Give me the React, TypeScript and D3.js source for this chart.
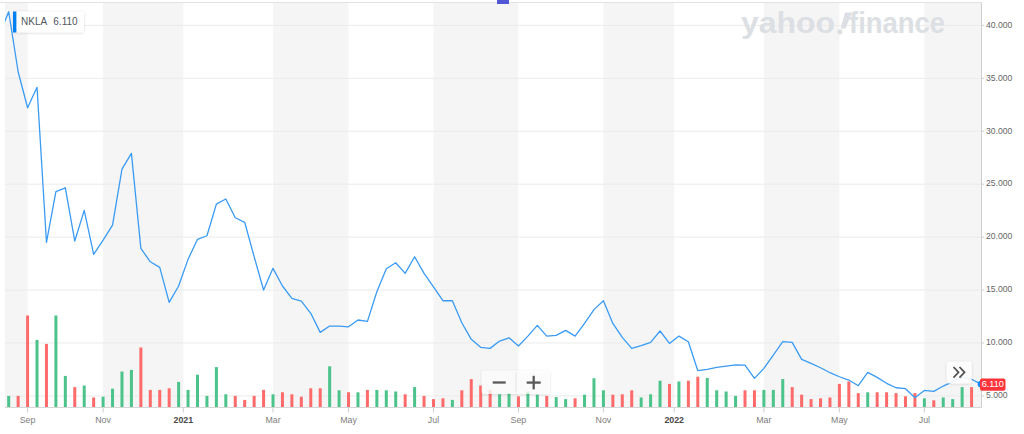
import React from 'react';
import * as d3 from 'd3';

// Weekly closes of NKLA (first point lies just left of the visible area)
const prices: number[] = [
  39.1, 41.29, 35.62, 32.22, 34.15, 19.51, 24.29, 24.66, 19.63, 22.53,
  18.37, 19.72, 21.14, 26.43, 27.91, 18.94, 17.67, 17.14, 13.84, 15.38,
  17.9, 19.79, 20.13, 23.12, 23.6, 21.83, 21.4, 18.15, 15.0, 17.05,
  15.38, 14.22, 13.96, 12.8, 11.0, 11.6, 11.6, 11.53, 12.17, 12.04,
  14.84, 17.01, 17.58, 16.58, 18.15, 16.58, 15.31, 13.99, 13.99, 11.91,
  10.34, 9.59, 9.49, 10.18, 10.49, 9.71, 10.65, 11.66, 10.65, 10.72,
  11.19, 10.65, 11.85, 13.15, 13.99, 11.85, 10.53, 9.49, 9.74, 10.06,
  11.13, 9.96, 10.65, 10.12, 7.38, 7.51, 7.7, 7.82, 7.94, 7.91,
  6.66, 7.6, 8.86, 10.12, 10.06, 8.45, 8.08, 7.66, 7.19, 6.81,
  6.5, 5.96, 7.22, 6.75, 6.19, 5.77, 5.68, 4.83, 5.52, 5.43,
  5.93, 6.34, 6.75, 6.57, 6.11,
];

// Weekly volume (millions); last point is the live quote without a bar
const volumes: (number | null)[] = [
  60, 29, 29, 230, 169, 159, 230, 79, 51, 55,
  25, 27, 47, 90, 94, 150, 44, 44, 48, 64,
  44, 82, 29, 101, 33, 29, 19, 29, 44, 33,
  38, 33, 27, 48, 48, 103, 43, 38, 38, 44,
  44, 43, 40, 33, 51, 29, 21, 23, 19, 43,
  71, 55, 44, 33, 36, 28, 40, 32, 29, 26,
  21, 23, 32, 73, 43, 32, 33, 43, 25, 33,
  67, 59, 65, 67, 77, 74, 43, 40, 29, 43,
  43, 44, 44, 71, 51, 32, 21, 23, 25, 59,
  65, 36, 38, 38, 38, 36, 28, 36, 23, 18,
  25, 21, 51, 51, null,
];

const tickLabels: string[] = ['Sep', 'Nov', '2021', 'Mar', 'May', 'Jul', 'Sep', 'Nov', '2022', 'Mar', 'May', 'Jul'];
const tickIndex: number[] = [3, 11, 19.5, 29, 37, 46, 55, 64, 71.5, 81, 89, 98];
const yTicks: number[] = [5, 10, 15, 20, 25, 30, 35, 40];
const symbol = 'NKLA';
const lastPrice = 6.11;

const W = 1024;
const H = 434;
const left = 5;
const right = 981.5;
const top = 2.5;
const bottom = 407.5;
const FONT = '"Liberation Sans", Arial, Helvetica, sans-serif';

export default function App() {
  const n = prices.length;
  const x = d3.scaleLinear().domain([0, n - 1]).range([-0.74, 981.0]);
  const y = d3.scaleLinear().domain([5, 40]).range([395.9, 25.4]);
  const vh = d3.scaleLinear().domain([0, 250]).range([0, 100]);
  const fmt = d3.format('.3f');

  const line = d3
    .line<number>()
    .x((_, i) => x(i))
    .y((d) => y(d));

  const bounds = [left, ...tickIndex.map((t) => x(t)), right];
  const bands = bounds.slice(0, -1).map((b, i) => ({ x0: b, x1: bounds[i + 1], gray: i % 2 === 0 }));

  const isYear = (s: string) => /^\d{4}$/.test(s);

  return (
    <svg
      width={W}
      height={H}
      style={{ position: 'absolute', left: 0, top: 0, background: '#fff' }}
      fontFamily={FONT}
    >
      <defs>
        <clipPath id="plot">
          <rect x={left} y={top} width={right - left} height={bottom - top} />
        </clipPath>
        <filter id="sh" x="-20%" y="-30%" width="140%" height="160%">
          <feDropShadow dx="0" dy="0.5" stdDeviation="1" floodColor="#000" floodOpacity="0.18" />
        </filter>
      </defs>

      {/* alternating month bands */}
      {bands.map((b, i) =>
        b.gray ? <rect key={i} x={b.x0} y={top} width={b.x1 - b.x0} height={bottom - top} fill="#f5f5f5" /> : null
      )}

      {/* top border */}
      <line x1={0} x2={right} y1={top} y2={top} stroke="#e3e3e3" strokeWidth={1} />

      {/* horizontal grid */}
      {yTicks.map((t) => (
        <line key={t} x1={left} x2={right} y1={y(t)} y2={y(t)} stroke="#ebebeb" strokeWidth={1} />
      ))}

      {/* watermark */}
      <g fill="#dcdfe3" fontWeight={800} fontSize={29}>
        <text x={741} y={33.3} textLength={94} lengthAdjust="spacingAndGlyphs">yahoo</text>
        <polygon points="845,12.5 852,12.5 845.5,28.5 840.5,28.5" />
        <circle cx={839.8} cy={31.8} r={2.6} />
        <text x={849} y={33.3} textLength={96} lengthAdjust="spacingAndGlyphs">finance</text>
      </g>

      {/* volume bars */}
      <g clipPath="url(#plot)">
        {volumes.map((v, i) =>
          v == null ? null : (
            <rect
              key={i}
              x={x(i) - 1.5}
              y={bottom - vh(v)}
              width={3}
              height={vh(v)}
              fill={i === 0 || prices[i] >= prices[i - 1] ? '#4cc38a' : '#ff6b6b'}
            />
          )
        )}
      </g>

      {/* price line */}
      <g clipPath="url(#plot)">
        <path d={line(prices) || ''} fill="none" stroke="#3a9bf4" strokeWidth={1.3} strokeLinejoin="round" />
      </g>

      {/* bottom axis */}
      <line x1={left} x2={right} y1={bottom} y2={bottom} stroke="#d6d6d6" />
      {tickIndex.map((t, i) => (
        <g key={i}>
          <line x1={x(t)} x2={x(t)} y1={bottom} y2={bottom + 5} stroke="#cfcfcf" />
          <text
            x={x(t)}
            y={421}
            textAnchor="middle"
            dominantBaseline="middle"
            fontSize={8.8}
            fill={isYear(tickLabels[i]) ? '#4a4a4a' : '#7d7d7d'}
            fontWeight={isYear(tickLabels[i]) ? 600 : 400}
          >
            {tickLabels[i]}
          </text>
        </g>
      ))}

      {/* right axis */}
      <line x1={right} x2={right} y1={top} y2={bottom} stroke="#cfcfcf" />
      {yTicks.map((t) => (
        <g key={t}>
          <line x1={right} x2={right + 2.5} y1={y(t)} y2={y(t)} stroke="#cfcfcf" />
          <text x={986} y={y(t)} dominantBaseline="middle" fontSize={8.6} fill="#666">
            {fmt(t)}
          </text>
        </g>
      ))}

      {/* legend */}
      <g filter="url(#sh)">
        <rect x={13} y={11.5} width={71} height={21} rx={2} fill="#fff" />
      </g>
      <rect x={13} y={11.5} width={3.4} height={21} fill="#0081f2" />
      <text x={21} y={25.3} fontSize={10} fontWeight={500} fill="#50565e">{symbol}</text>
      <text x={53.3} y={25.3} fontSize={10} fontWeight={500} fill="#50565e">{fmt(lastPrice)}</text>

      {/* zoom buttons */}
      <g filter="url(#sh)">
        <rect x={481.7} y={370.7} width={68.3} height={23.3} rx={2} fill="#fff" fillOpacity={0.78} />
      </g>
      <line x1={516} x2={516} y1={372.5} y2={392.5} stroke="#e2e2e2" />
      <line x1={492.7} x2={505.7} y1={382.5} y2={382.5} stroke="#5a5a5a" strokeWidth={2.3} />
      <line x1={526.7} x2={540.7} y1={382.6} y2={382.6} stroke="#5a5a5a" strokeWidth={2.3} />
      <line x1={533.7} x2={533.7} y1={375.8} y2={389.4} stroke="#5a5a5a" strokeWidth={2.3} />

      {/* scroll-forward button */}
      <g filter="url(#sh)">
        <rect x={946.7} y={361.7} width={25} height={21.7} rx={2} fill="#fff" fillOpacity={0.9} />
      </g>
      <polyline points="953.5,367 958.5,372.3 953.5,377.6" fill="none" stroke="#555" strokeWidth={1.8} />
      <polyline points="959.5,367 964.5,372.3 959.5,377.6" fill="none" stroke="#555" strokeWidth={1.8} />

      {/* last price marker */}
      <circle cx={x(n - 1)} cy={y(lastPrice)} r={3.3} fill="#1e88f0" />
      <rect x={980} y={378.4} width={25.5} height={12.4} rx={2} fill="#ff333a" />
      <text x={992.8} y={384.8} textAnchor="middle" dominantBaseline="middle" fontSize={9.2} fontWeight={500} fill="#fff">
        {fmt(lastPrice)}
      </text>

      {/* top tab */}
      <rect x={497} y={0} width={12} height={4} fill="#5257d6" />
    </svg>
  );
}
